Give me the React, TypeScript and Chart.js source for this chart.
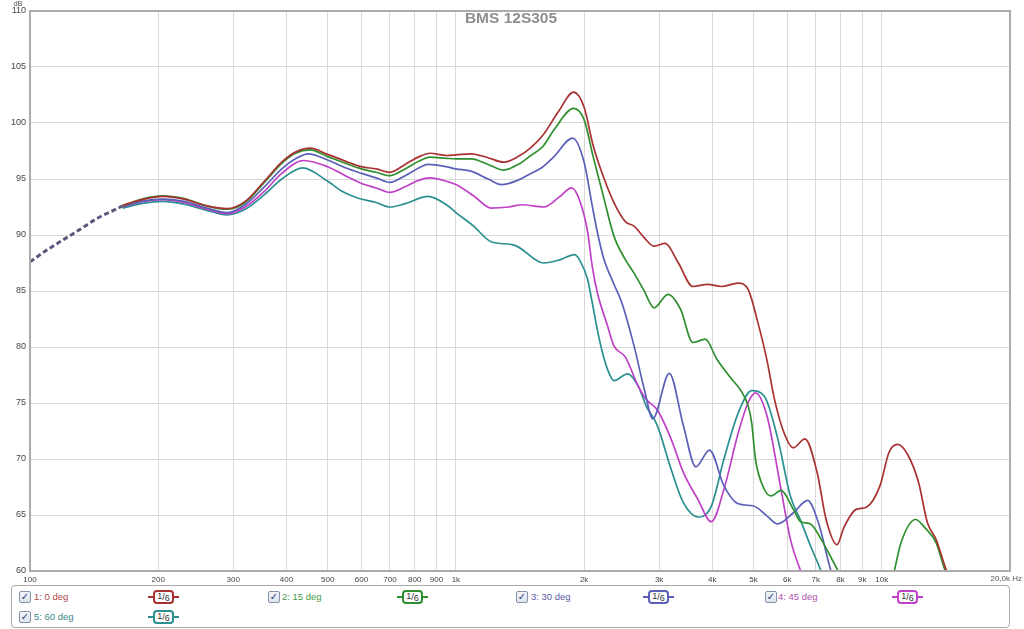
import { useEffect, useRef } from 'react';
import { Chart, registerables } from 'chart.js';

Chart.register(...registerables);

// frequency axis ticks (Hz)
const xTicks = [100, 200, 300, 400, 500, 600, 700, 800, 900, 1000, 2000, 3000, 4000, 5000, 6000, 7000, 8000, 9000, 10000, 20000];

// shared dashed low-frequency part
const dashFreq = [100, 110, 120, 131, 144, 155, 165];
const dashDb = [87.6, 88.7, 89.6, 90.5, 91.5, 92.1, 92.6];

// 1: 0 deg
const deg0Freq = [165, 185, 205, 230, 260, 290, 320, 355, 390, 420, 455, 500, 550, 600, 650, 700, 760, 820, 870, 950, 1000, 1085, 1190, 1295, 1400, 1500, 1600, 1740, 1890, 2000, 2100, 2220, 2350, 2500, 2620, 2770, 2920, 3100, 3330, 3600, 3900, 4200, 4600, 4860, 5100, 5370, 5600, 5900, 6200, 6600, 7050, 7400, 7850, 8150, 8700, 9200, 9900, 10400, 10900, 11500, 12200, 12800, 13400, 14200, 14500];
const deg0Db = [92.65, 93.2, 93.45, 93.2, 92.6, 92.35, 93.0, 94.8, 96.5, 97.4, 97.75, 97.2, 96.6, 96.1, 95.9, 95.6, 96.3, 97.0, 97.3, 97.1, 97.15, 97.25, 96.9, 96.5, 97.0, 97.8, 98.9, 101.0, 102.75, 101.4, 98.0, 95.2, 92.9, 91.2, 90.8, 89.75, 89.0, 89.25, 87.5, 85.4, 85.6, 85.4, 85.7, 85.1, 82.4, 78.9, 75.3, 72.3, 71.0, 71.8, 68.8, 64.6, 62.35, 63.9, 65.5, 65.7, 67.6, 70.6, 71.3, 70.4, 67.9, 64.3, 62.85, 60.0, 59.3];

// 2: 15 deg (null = below the plot, gap)
const deg15Freq = [165, 185, 205, 230, 260, 290, 320, 355, 390, 420, 455, 500, 550, 600, 650, 700, 760, 820, 870, 950, 1000, 1085, 1190, 1295, 1400, 1500, 1600, 1700, 1890, 2000, 2100, 2220, 2350, 2500, 2620, 2760, 2920, 3150, 3370, 3600, 3850, 4100, 4450, 4650, 4860, 4950, 5050, 5300, 5500, 5800, 6200, 6450, 6800, 7200, 7900, 8100, 9200, 10600, 10700, 11100, 12000, 12600, 13400, 14100, 14400];
const deg15Db = [92.6, 93.25, 93.5, 93.25, 92.6, 92.3, 92.9, 94.7, 96.4, 97.3, 97.6, 97.0, 96.4, 95.9, 95.6, 95.3, 95.9, 96.6, 96.95, 96.85, 96.8, 96.8, 96.3, 95.8, 96.3, 97.1, 97.9, 99.4, 101.3, 100.3, 97.0, 93.45, 89.9, 87.8, 86.6, 85.1, 83.5, 84.7, 83.35, 80.4, 80.7, 78.9, 77.1, 76.2, 74.7, 73.2, 70.0, 67.3, 66.7, 67.2, 65.5, 64.4, 64.2, 62.85, 60.0, 59.3, null, 59.3, 60.0, 62.55, 64.6, 63.9, 62.55, 60.0, 59.3];

// 3: 30 deg
const deg30Freq = [165, 185, 205, 230, 260, 290, 320, 355, 390, 420, 450, 500, 550, 600, 650, 700, 760, 820, 860, 950, 1000, 1085, 1190, 1280, 1400, 1500, 1590, 1700, 1880, 2000, 2090, 2150, 2220, 2350, 2450, 2620, 2770, 2900, 3170, 3420, 3660, 3940, 4260, 4600, 5000, 5380, 5700, 6200, 6700, 7100, 7600, 7800];
const deg30Db = [92.5, 93.05, 93.2, 93.0, 92.4, 92.0, 92.7, 94.3, 95.9, 96.8, 97.25, 96.7, 96.0, 95.5, 95.1, 94.7, 95.3, 96.0, 96.3, 96.1, 95.9, 95.7, 95.0, 94.5, 94.9, 95.5, 96.0, 97.0, 98.65, 96.5, 92.6, 90.2, 88.0, 85.6, 84.0, 80.1, 76.2, 73.6, 77.65, 73.0, 69.3, 70.8, 67.6, 66.0, 65.8, 64.9, 64.2, 65.2, 66.3, 64.3, 60.0, 59.0];

// 4: 45 deg
const deg45Freq = [165, 185, 205, 230, 260, 290, 320, 355, 390, 439, 500, 550, 600, 650, 700, 760, 820, 870, 950, 1000, 1100, 1210, 1330, 1430, 1610, 1750, 1870, 1960, 2040, 2090, 2150, 2270, 2350, 2500, 2680, 2800, 2970, 3200, 3420, 3700, 3980, 4260, 4600, 4850, 5050, 5380, 5780, 6100, 6450, 6600];
const deg45Db = [92.5, 93.0, 93.15, 92.9, 92.3, 91.9, 92.5, 93.9, 95.5, 96.65, 96.1, 95.3, 94.6, 94.2, 93.8, 94.3, 94.9, 95.1, 94.8, 94.5, 93.5, 92.4, 92.5, 92.7, 92.5, 93.4, 94.2, 92.9, 90.2, 87.2, 84.8, 81.9, 80.1, 79.1, 76.5, 75.3, 74.4, 71.8, 68.8, 66.4, 64.4, 67.3, 72.3, 75.0, 75.9, 73.8, 67.6, 62.85, 60.0, 59.0];

// 5: 60 deg
const deg60Freq = [165, 185, 205, 230, 260, 290, 320, 355, 390, 437, 500, 540, 588, 650, 700, 760, 860, 950, 1000, 1100, 1210, 1370, 1610, 1760, 1900, 1960, 2040, 2070, 2180, 2270, 2350, 2530, 2680, 2800, 2970, 3200, 3420, 3720, 3980, 4260, 4600, 4950, 5300, 5700, 6100, 6450, 6800, 7200, 7350];
const deg60Db = [92.4, 92.85, 93.0, 92.75, 92.2, 91.8, 92.3, 93.6, 95.0, 96.0, 94.8, 93.9, 93.3, 92.9, 92.5, 92.8, 93.45, 92.7, 92.0, 90.8, 89.4, 89.1, 87.5, 87.8, 88.25, 87.65, 86.0, 84.8, 80.4, 78.0, 77.0, 77.6, 76.5, 74.7, 73.0, 69.1, 66.1, 64.8, 65.8, 70.0, 74.1, 76.1, 75.6, 71.8, 66.7, 64.5, 62.25, 60.0, 59.0];

const series = [
  { label: '1: 0 deg', freq: deg0Freq, db: deg0Db, color: '#a83232', text: '#b04848' },
  { label: '2: 15 deg', freq: deg15Freq, db: deg15Db, color: '#2f8f2f', text: '#4a9a4a' },
  { label: '3: 30 deg', freq: deg30Freq, db: deg30Db, color: '#5a60b8', text: '#5a5aa0' },
  { label: '4: 45 deg', freq: deg45Freq, db: deg45Db, color: '#c040c8', text: '#b050b0' },
  { label: '5: 60 deg', freq: deg60Freq, db: deg60Db, color: '#2a9090', text: '#3a8a8a' },
];

// legend slots: [checkbox left, text left, icon left, row]
const legendSlots = [
  [19, 34, 148, 0],
  [268, 282, 397, 0],
  [516, 531, 643, 0],
  [765, 778, 892, 0],
  [19, 34, 148, 1],
];

const FONT = '"Liberation Sans", Arial, sans-serif';

const decorPlugin = {
  id: 'decor',
  afterDraw(chart: any) {
    const { ctx, chartArea } = chart;
    const { left, top, right, bottom } = chartArea;
    ctx.save();
    ctx.strokeStyle = '#ababab';
    ctx.lineWidth = 2;
    ctx.strokeRect(left, top, right - left, bottom - top);

    ctx.fillStyle = '#8e8e8e';
    ctx.font = `bold 15.5px ${FONT}`;
    ctx.textAlign = 'center';
    ctx.textBaseline = 'middle';
    ctx.fillText('BMS 12S305', 511, 19);

    ctx.fillStyle = '#555';
    ctx.font = `7.5px ${FONT}`;
    ctx.fillText('dB', 18, 3.5);

    ctx.font = `8px ${FONT}`;
    ctx.textAlign = 'right';
    const x20k = chart.scales.x.getPixelForValue(20000);
    ctx.fillText('20,0k Hz', x20k + 12, bottom + 8);
    ctx.restore();
  },
};

function Checkbox() {
  return (
    <span
      style={{
        position: 'absolute', width: 10, height: 10, border: '1px solid #8393aa', borderRadius: 2,
        background: 'linear-gradient(#f4f6fa, #dde3ec)', color: '#2c3e7a', fontSize: 10,
        lineHeight: '10px', textAlign: 'center', fontFamily: '"DejaVu Sans", sans-serif',
      }}
    >✓</span>
  );
}

function SmoothIcon({ color }: { color: string }) {
  return (
    <span style={{ position: 'absolute', display: 'flex', alignItems: 'center', height: 14 }}>
      <span style={{ width: 5, height: 2, background: color }} />
      <span
        style={{
          width: 17, height: 10, border: `2px solid ${color}`, borderRadius: 4, color: '#333',
          fontSize: 9, lineHeight: '10px', textAlign: 'center', fontFamily: FONT,
        }}
      >
        <span style={{ position: 'relative', top: -1 }}>1</span>/<span style={{ position: 'relative', top: 1 }}>6</span>
      </span>
      <span style={{ width: 5, height: 2, background: color }} />
    </span>
  );
}

function Legend() {
  return (
    <div
      style={{
        position: 'absolute', left: 11, top: 585, width: 997, height: 41, border: '1px solid #a9a9a9',
        borderRadius: 4, background: '#fff',
      }}
    >
      {series.map((s, i) => {
        const [cb, tx, ic, row] = legendSlots[i];
        const cy = 11 + row * 20;
        return (
          <div key={s.label}>
            <div style={{ position: 'absolute', left: cb - 12, top: cy - 6 }}><Checkbox /></div>
            <div
              style={{
                position: 'absolute', left: tx - 12, top: cy - 6, color: s.text, fontSize: 9.5,
                fontFamily: FONT, lineHeight: '12px', whiteSpace: 'nowrap',
              }}
            >{s.label}</div>
            <div style={{ position: 'absolute', left: ic - 12, top: cy - 7 }}><SmoothIcon color={s.color} /></div>
          </div>
        );
      })}
    </div>
  );
}

export default function App() {
  const canvasRef = useRef<HTMLCanvasElement | null>(null);
  const chartRef = useRef<any>(null);

  useEffect(() => {
    if (!canvasRef.current) return;
    if (chartRef.current) chartRef.current.destroy();

    const datasets: any[] = series.map(s => ({
      label: s.label,
      data: s.freq.map((f, i) => ({ x: f, y: s.db[i] })),
      borderColor: s.color,
      borderWidth: 1.7,
      pointRadius: 0,
      fill: false,
      spanGaps: false,
      cubicInterpolationMode: 'monotone',
    }));
    datasets.push({
      label: 'common',
      data: dashFreq.map((f, i) => ({ x: f, y: dashDb[i] })),
      borderColor: '#56577a',
      borderWidth: 3,
      borderDash: [5, 3],
      pointRadius: 0,
      fill: false,
      cubicInterpolationMode: 'monotone',
    });

    chartRef.current = new Chart(canvasRef.current, {
      type: 'line',
      data: { datasets },
      plugins: [decorPlugin],
      options: {
        animation: false,
        responsive: false,
        layout: { padding: { top: 11, right: 14, bottom: 0, left: 0 } },
        plugins: { legend: { display: false }, tooltip: { enabled: false }, title: { display: false } },
        scales: {
          x: {
            type: 'logarithmic',
            min: 100,
            max: 20000,
            afterBuildTicks: (axis: any) => {
              axis.ticks = xTicks.map(v => ({ value: v }));
            },
            afterFit: (scale: any) => {
              scale.height = 15;
              scale.paddingLeft = 0;
              scale.paddingRight = 0;
            },
            grid: { color: '#d9d9d9', lineWidth: 1, drawTicks: false },
            border: { display: false },
            ticks: {
              autoSkip: false,
              maxRotation: 0,
              minRotation: 0,
              padding: 4,
              color: '#444',
              font: { family: FONT, size: 8 },
              callback: (v: any) => {
                const n = Number(v);
                if (n === 20000) return '';
                return n >= 1000 ? `${n / 1000}k` : `${n}`;
              },
            },
          },
          y: {
            min: 60,
            max: 110,
            afterFit: (scale: any) => {
              scale.width = 30;
            },
            grid: { color: '#d9d9d9', lineWidth: 1, drawTicks: false },
            border: { display: false },
            ticks: {
              stepSize: 5,
              padding: 4,
              color: '#444',
              font: { family: FONT, size: 9 },
            },
          },
        },
      },
    });

    return () => {
      if (chartRef.current) {
        chartRef.current.destroy();
        chartRef.current = null;
      }
    };
  }, []);

  return (
    <div style={{ position: 'fixed', left: 0, top: 0, width: 1024, height: 629, background: '#fff' }}>
      <canvas ref={canvasRef} width={1024} height={586} style={{ display: 'block', width: 1024, height: 586 }}></canvas>
      <Legend />
    </div>
  );
}
